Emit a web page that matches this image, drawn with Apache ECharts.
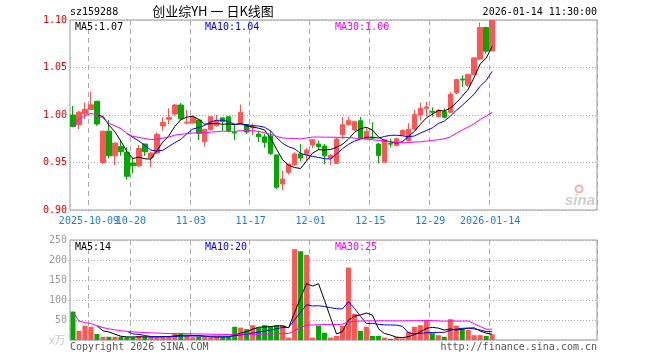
<!DOCTYPE html>
<html>
<head>
<meta charset="utf-8">
<script src="https://cdn.jsdelivr.net/npm/echarts@6/dist/echarts.min.js"></script>
<style>
html,body{margin:0;padding:0;background:#fff;}
#c{width:660px;height:360px;}
</style>
</head>
<body>
<div id="c"></div>
<script>
// ---- data ----
const dates = [
'2025-09-26','2025-09-29','2025-09-30','2025-10-09','2025-10-10','2025-10-13','2025-10-14','2025-10-15','2025-10-16','2025-10-17',
'2025-10-20','2025-10-21','2025-10-22','2025-10-23','2025-10-24','2025-10-27','2025-10-28','2025-10-29','2025-10-30','2025-10-31',
'2025-11-03','2025-11-04','2025-11-05','2025-11-06','2025-11-07','2025-11-10','2025-11-11','2025-11-12','2025-11-13','2025-11-14',
'2025-11-17','2025-11-18','2025-11-19','2025-11-20','2025-11-21','2025-11-24','2025-11-25','2025-11-26','2025-11-27','2025-11-28',
'2025-12-01','2025-12-02','2025-12-03','2025-12-04','2025-12-05','2025-12-08','2025-12-09','2025-12-10','2025-12-11','2025-12-12',
'2025-12-15','2025-12-16','2025-12-17','2025-12-18','2025-12-19','2025-12-22','2025-12-23','2025-12-24','2025-12-25','2025-12-26',
'2025-12-29','2025-12-30','2025-12-31','2026-01-05','2026-01-06','2026-01-07','2026-01-08','2026-01-09','2026-01-12','2026-01-13',
'2026-01-14'];
const opens = [
1.000,0.990,1.001,1.0058,1.0145,0.950,0.983,0.957,0.9667,0.961,
0.9495,0.9465,0.9695,0.955,0.960,0.9885,0.9955,1.001,1.0105,0.9915,
0.9915,0.9947,0.972,0.9846,0.9888,0.997,0.9982,0.9816,0.991,0.990,
0.9863,0.980,0.977,0.978,0.958,0.9274,0.9396,0.9474,0.959,0.9586,
0.9684,0.9695,0.9674,0.9544,0.949,0.9793,0.9898,0.9842,0.994,0.975,
0.9765,0.9695,0.9503,0.970,0.968,0.9787,0.973,0.985,1.000,1.007,
1.004,0.9983,1.0035,1.0028,1.0233,1.0378,1.0313,1.0427,1.059,1.092,
1.0675];
const closes = [
0.988,1.003,1.006,1.0107,0.9905,0.983,0.957,0.9705,0.9614,0.9355,
0.9465,0.9648,0.9614,0.960,0.9795,0.9923,0.9972,1.0105,0.996,0.9925,
0.9975,0.9807,0.985,0.9982,0.994,0.993,0.9835,0.981,1.003,0.982,
0.9877,0.977,0.9712,0.9596,0.9239,0.9326,0.9484,0.959,0.9547,0.9632,
0.974,0.9667,0.957,0.9575,0.9747,0.9898,0.994,0.993,0.976,0.9825,
0.9755,0.9575,0.974,0.9693,0.975,0.9837,0.985,1.0005,1.007,1.0085,
1.003,1.005,0.9976,1.0219,1.0372,1.0368,1.0427,1.0601,1.092,1.0672,
1.0995];
const lows = [
0.987,0.985,0.996,1.005,0.9885,0.9484,0.9544,0.947,0.957,0.932,
0.9385,0.945,0.957,0.945,0.9592,0.9835,0.9905,0.9993,0.994,0.990,
0.991,0.9737,0.9667,0.9835,0.9877,0.983,0.9818,0.9737,0.9895,0.980,
0.979,0.9716,0.9656,0.958,0.922,0.921,0.9372,0.9467,0.951,0.952,
0.965,0.963,0.9484,0.947,0.949,0.9747,0.9888,0.9835,0.9747,0.9737,
0.9745,0.949,0.9503,0.966,0.967,0.978,0.972,0.984,0.994,0.9983,
0.9983,0.9976,0.9965,1.0017,1.0219,1.0295,1.0295,1.0417,1.058,1.0645,
1.067];
const highs = [
1.0095,1.0045,1.013,1.0247,1.0145,0.983,0.9947,0.9705,0.973,0.966,
0.955,0.9684,0.9695,0.9615,0.9818,0.9975,1.007,1.0116,1.0126,1.0053,
0.9993,0.9947,0.985,0.9982,1.000,0.997,0.9982,0.9912,1.011,0.9905,
0.9912,0.9835,0.980,0.9835,0.958,0.9414,0.9484,0.9607,0.9695,0.9653,
0.9747,0.973,0.9695,0.959,0.9765,0.998,0.998,0.994,0.998,0.987,
0.9924,0.9707,0.975,0.975,0.976,0.985,0.9913,1.0053,1.0128,1.0139,
1.008,1.006,1.007,1.0243,1.0382,1.0417,1.0434,1.0608,1.0975,1.093,
1.100];
const volumes = [
71,23,36,33,15,8,8,8,8,7,
7,10,8,8,7,10,10,15,15,10,
7,8,8,7,8,7,7,33,31,27,
37,31,37,35,37,37,6,227,222,213,
6,36,18,6,10,35,181,65,23,33,
10,10,6,3,7,4,21,33,37,50,
17,12,8,52,36,27,25,12,12,10,
14];
const tickDates = ['2025-10-09','2025-10-20','2025-11-03','2025-11-17','2025-12-01','2025-12-15','2025-12-29','2026-01-14'];
const tickLabels = ['2025-10-09','10-20','11-03','11-17','12-01','12-15','12-29','2026-01-14'];
const priceTicks = {min:0.90, max:1.10, step:0.05};
const volTicks = {min:0, max:250, step:50};
const maLabelsPrice = ['MA5:1.07','MA10:1.04','MA30:1.00'];
const maLabelsVol = ['MA5:14','MA10:20','MA30:25'];

// ---- derived ----
const SLOTS = 88;
const cats = dates.slice();
for (let i = dates.length; i < SLOTS; i++) cats.push('_' + i);
const candle = dates.map((d,i)=>[opens[i],closes[i],lows[i],highs[i]]);
const RED = '#ff5555', GREEN = '#00aa00';
const volData = volumes.map((v,i)=>({value:v,itemStyle:{color: closes[i]>=opens[i]?RED:GREEN}}));
function ma(arr, n, partial){
  return arr.map((_,i)=>{
    if (i < n-1 && !partial) return '-';
    const s = Math.max(0, i-n+1); let t = 0;
    for (let k=s;k<=i;k++) t += arr[k];
    return +(t/(i-s+1)).toFixed(4);
  });
}
const tickSet = {};
tickDates.forEach((d,k)=>tickSet[d]=tickLabels[k]);
const isTick = (idx, val) => tickSet[val] !== undefined;
const firstTick = tickDates[0];
const isLaterTick = (idx, val) => tickSet[val] !== undefined && val !== firstTick;
const isFirstTick = (idx, val) => val === firstTick;
const MONO = '"DejaVu Sans Mono", monospace';
const dash = {show:true, interval:isTick, lineStyle:{color:'#aaa', type:[5,4], width:1}};
const labelBase = {color:'#1c7ed6', fontFamily:MONO, fontSize:10, margin:6, padding:[0,4,0,0], hideOverlap:false,
  formatter:v=>tickSet[v]||''};

const chart = echarts.init(document.getElementById('c'), null, {renderer:'canvas'});
const lineS = (name, data, color, yi) => ({
  type:'line', name, data, xAxisIndex:yi===0?0:1, yAxisIndex:yi, showSymbol:false, symbol:'none',
  smooth:false, lineStyle:{color, width:1}, itemStyle:{color}, silent:true, animation:false, z:5
});
const txt = (x,y,text,fill,extra) => ({type:'text', x, y, silent:true, z:100,
  style:Object.assign({text, fill, font:'10px '+MONO, verticalAlign:'top', align:'left'}, extra||{})});

chart.setOption({
  animation:false,
  backgroundColor:'#fff',
  grid:[
    {left:70, top:20, width:527, height:190, show:true, borderColor:'#999', borderWidth:1, backgroundColor:'transparent'},
    {left:70, top:240, width:527, height:100, show:true, borderColor:'#999', borderWidth:1, backgroundColor:'transparent'}
  ],
  xAxis:[
    {type:'category', gridIndex:0, data:cats, boundaryGap:true,
     axisLine:{show:false}, axisTick:{show:false},
     axisLabel:Object.assign({show:true, interval:isLaterTick}, labelBase),
     splitLine:dash},
    {type:'category', gridIndex:1, data:cats, boundaryGap:true,
     axisLine:{show:false}, axisTick:{show:false}, axisLabel:{show:false},
     splitLine:dash},
    {type:'category', gridIndex:0, data:cats, boundaryGap:true, position:'bottom',
     axisLine:{show:false}, axisTick:{show:false},
     axisLabel:Object.assign({show:true, interval:isFirstTick}, labelBase),
     splitLine:{show:false}}
  ],
  yAxis:[
    {type:'value', gridIndex:0, min:priceTicks.min, max:priceTicks.max, interval:priceTicks.step, scale:true,
     axisLine:{show:false}, axisTick:{show:false},
     axisLabel:{color:'#ee0000', fontFamily:MONO, fontSize:10, margin:3, formatter:v=>v.toFixed(2)},
     splitLine:{show:true, lineStyle:{color:'#aaa', type:[1,2], width:1}}},
    {type:'value', gridIndex:1, min:volTicks.min, max:volTicks.max, interval:volTicks.step,
     axisLine:{show:false}, axisTick:{show:false},
     axisLabel:{color:'#999', fontFamily:MONO, fontSize:10, margin:3, showMinLabel:false},
     splitLine:{show:true, lineStyle:{color:'#aaa', type:[1,2], width:1}}}
  ],
  series:[
    {type:'candlestick', xAxisIndex:0, yAxisIndex:0, data:candle, barWidth:5, silent:true, z:3,
     itemStyle:{color:RED, color0:GREEN, borderColor:RED, borderColor0:GREEN, borderWidth:1}},
    lineS('MA5', ma(closes,5,false), '#000000', 0),
    lineS('MA10', ma(closes,10,false), '#0000ff', 0),
    lineS('MA30', ma(closes,30,true), '#ff00ff', 0),
    {type:'bar', xAxisIndex:1, yAxisIndex:1, data:volData, barWidth:5, silent:true, z:3},
    lineS('VMA5', ma(volumes,5,false), '#000000', 1),
    lineS('VMA10', ma(volumes,10,false), '#0000ff', 1),
    lineS('VMA30', ma(volumes,30,true), '#ff00ff', 1)
  ],
  graphic:[
    txt(70,7,'sz159288','#000'),
    {type:'text', x:213, y:5, silent:true, z:100,
     style:{text:'创业综YH 一 日K线图', fill:'#000', font:'13px "Noto Sans CJK SC"', align:'center', verticalAlign:'top'}},
    txt(597,7,'2026-01-14 11:30:00','#000',{align:'right'}),
    txt(75,22,maLabelsPrice[0],'#000'),
    txt(205,22,maLabelsPrice[1],'#0000ff'),
    txt(335,22,maLabelsPrice[2],'#ff00ff'),
    txt(75,242,maLabelsVol[0],'#000'),
    txt(205,242,maLabelsVol[1],'#0000ff'),
    txt(335,242,maLabelsVol[2],'#ff00ff'),
    txt(70,342,'Copyright 2026 SINA.COM','#555'),
    txt(597,342,'http://finance.sina.com.cn','#555',{align:'right'}),
    {type:'text', x:49, y:334, silent:true, z:100,
     style:{text:'x万', fill:'#c8c8c8', font:'11px "Noto Sans CJK SC"', verticalAlign:'top'}},
    {type:'circle', silent:true, z:50, shape:{cx:579, cy:189, r:3.5},
     style:{fill:'none', stroke:'#f3b3b3', lineWidth:2}},
    {type:'text', x:565, y:193, silent:true, z:50,
     style:{text:'sina', fill:'#cfcfcf', font:'italic bold 15px "Liberation Sans"', verticalAlign:'top'}}
  ]
});
</script>
</body>
</html>
